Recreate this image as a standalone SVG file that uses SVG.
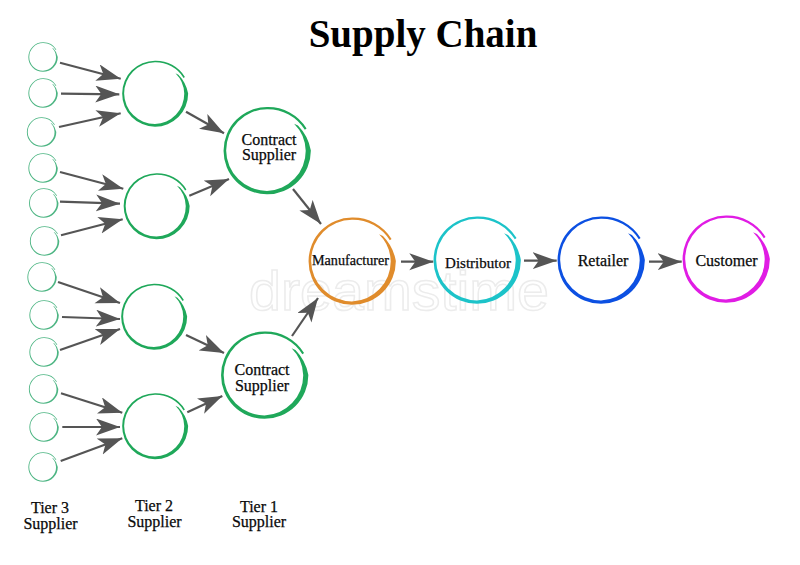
<svg xmlns="http://www.w3.org/2000/svg" width="800" height="565" viewBox="0 0 800 565">
<style>
text{font-family:"Liberation Serif","Times New Roman",serif;fill:#0a0a0a;stroke:#0a0a0a;stroke-width:.25;text-anchor:middle}
.t{font-size:16px}
.title{font-size:39px;font-weight:bold;fill:#000;stroke:none}
text.wm{font-family:"Liberation Sans",Arial,sans-serif;font-size:56px;fill:none;stroke:#ececec;stroke-width:1.5}
.sm{fill:#4db583}
.gr{fill:#1fa85a}
.or{fill:#e08c2c}
.cy{fill:#1cc3c9}
.bl{fill:#0c50e2}
.mg{fill:#e01ce4}
.c line{stroke:#555;stroke-width:2.2;marker-end:url(#a)}
</style>
<defs>
<marker id="a" markerUnits="userSpaceOnUse" markerWidth="25" markerHeight="18" viewBox="0 0 25 18" refX="24" refY="8.5" orient="auto">
<path d="M24 8.5L0 0L6 8.5L0 17Z" fill="#555"/>
</marker>
<path id="s" d="M92-51A105 105 0 0 0 0-101A101 101 0 0 0-101 0A101 101 0 0 0 0 102A102 102 0 0 0 102 0A110 110 0 0 0 72-58L63-62A92 92 0 0 1 90 0A93 93 0 0 1 0 94A95 95 0 0 1-95 0A96 96 0 0 1 0-96A102 102 0 0 1 88-48Z"/>
</defs>
<rect width="800" height="565" fill="#fff"/>
<text class="wm" x="399" y="310" textLength="300" lengthAdjust="spacingAndGlyphs">dreamstime</text>
<g id="connectors" class="c">
<line x1="60" y1="62.700" x2="120.700" y2="78.700"/>
<line x1="61" y1="93.700" x2="119.300" y2="94.300"/>
<line x1="59" y1="127" x2="120.700" y2="113.300"/>
<line x1="60" y1="172" x2="123.300" y2="188.700"/>
<line x1="60" y1="201.700" x2="120" y2="203.700"/>
<line x1="61" y1="235.300" x2="122.700" y2="219.300"/>
<line x1="58" y1="282" x2="120" y2="303"/>
<line x1="62" y1="317" x2="120" y2="319"/>
<line x1="60" y1="350" x2="120" y2="329"/>
<line x1="61" y1="393.300" x2="122.300" y2="412.700"/>
<line x1="62.300" y1="427" x2="120" y2="427"/>
<line x1="60.700" y1="461" x2="122.300" y2="438.300"/>
<line x1="186" y1="111.700" x2="224" y2="133.300"/>
<line x1="189.300" y1="195.700" x2="229" y2="179"/>
<line x1="186" y1="335" x2="224" y2="353"/>
<line x1="187.300" y1="412.300" x2="222.300" y2="396"/>
<line x1="293" y1="189" x2="321" y2="224"/>
<line x1="292" y1="336" x2="318" y2="298"/>
<line x1="401" y1="261.700" x2="433.300" y2="261.700"/>
<line x1="524" y1="260.700" x2="556.700" y2="260.700"/>
<line x1="649" y1="261.700" x2="681.700" y2="261.700"/>
</g>
<g id="t3-1"><use href="#s" class="sm" transform="translate(43 57) scale(.145)"/></g>
<g id="t3-2"><use href="#s" class="sm" transform="translate(43 93) scale(.145)"/></g>
<g id="t3-3"><use href="#s" class="sm" transform="translate(41.500 132) scale(.145)"/></g>
<g id="t3-4"><use href="#s" class="sm" transform="translate(43 168) scale(.145)"/></g>
<g id="t3-5"><use href="#s" class="sm" transform="translate(43.700 203) scale(.145)"/></g>
<g id="t3-6"><use href="#s" class="sm" transform="translate(44.500 241) scale(.145)"/></g>
<g id="t3-7"><use href="#s" class="sm" transform="translate(42 277) scale(.145)"/></g>
<g id="t3-8"><use href="#s" class="sm" transform="translate(44 315) scale(.145)"/></g>
<g id="t3-9"><use href="#s" class="sm" transform="translate(44 352) scale(.145)"/></g>
<g id="t3-10"><use href="#s" class="sm" transform="translate(43.500 389) scale(.145)"/></g>
<g id="t3-11"><use href="#s" class="sm" transform="translate(44 427) scale(.145)"/></g>
<g id="t3-12"><use href="#s" class="sm" transform="translate(43 467) scale(.145)"/></g>
<g id="t2-1"><use href="#s" class="gr" transform="translate(155 93.500) scale(.325)"/></g>
<g id="t2-2"><use href="#s" class="gr" transform="translate(156.500 206) scale(.325)"/></g>
<g id="t2-3"><use href="#s" class="gr" transform="translate(154 316.500) scale(.325)"/></g>
<g id="t2-4"><use href="#s" class="gr" transform="translate(155 426) scale(.325)"/></g>
<g id="t1-1"><use href="#s" class="gr" transform="translate(267 150.500) scale(.43)"/><text class="t" x="269" y="145">Contract</text><text class="t" x="269" y="160">Supplier</text></g>
<g id="t1-2"><use href="#s" class="gr" transform="translate(264.500 375) scale(.43)"/><text class="t" x="262" y="375">Contract</text><text class="t" x="262" y="391">Supplier</text></g>
<g id="manufacturer"><use href="#s" class="or" transform="translate(352 261) scale(.43)"/><text x="350.500" y="265" font-size="14.200">Manufacturer</text></g>
<g id="distributor"><use href="#s" class="cy" transform="translate(477 260) scale(.43)"/><text x="478" y="268" font-size="15">Distributor</text></g>
<g id="retailer"><use href="#s" class="bl" transform="translate(601 260) scale(.43)"/><text class="t" x="603" y="266">Retailer</text></g>
<g id="customer"><use href="#s" class="mg" transform="translate(726 259) scale(.43)"/><text class="t" x="726.500" y="266">Customer</text></g>
<text class="title" x="423" y="47">Supply Chain</text>
<text class="t" x="50" y="513">Tier 3</text><text class="t" x="50.500" y="529">Supplier</text>
<text class="t" x="154" y="511">Tier 2</text><text class="t" x="154.500" y="527">Supplier</text>
<text class="t" x="259" y="512">Tier 1</text><text class="t" x="259" y="527">Supplier</text>
</svg>
